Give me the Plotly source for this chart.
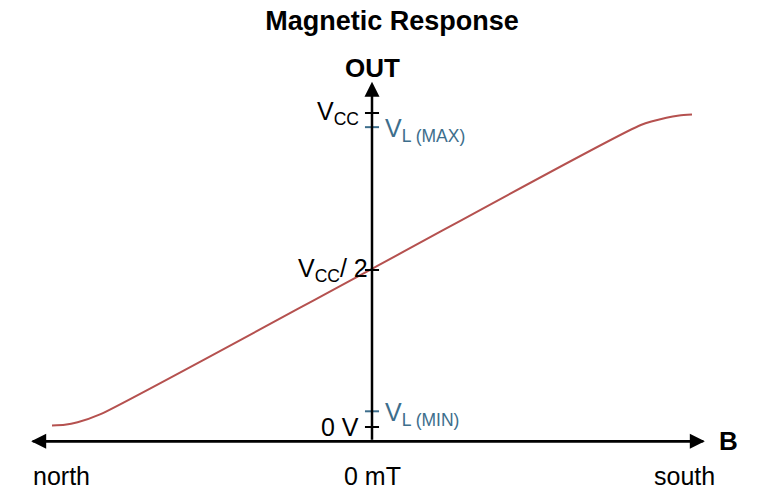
import plotly.graph_objects as go

# magnetic field (normalized, north negative) and output (fraction of Vcc)
field = [-1.0, -0.96, -0.92, -0.85, 0.0, 0.84, 0.92, 0.96, 1.0]
out = [0.005, 0.007, 0.015, 0.04, 0.504, 0.962, 0.985, 0.992, 0.995]
vl_min, vl_max = 0.05, 0.955
x_labels = ["north", "0 mT", "south"]
x_label_pos = [-0.97, 0.0, 0.975]

fig = go.Figure()
fig.add_trace(go.Scatter(x=field, y=out, mode="lines", line=dict(color="#b5514f", width=2, shape="spline", smoothing=0.6), hoverinfo="skip"))

ax_y = -0.045
fig.add_annotation(x=1.04, y=ax_y, ax=-1.065, ay=ax_y, xref="x", yref="y", axref="x", ayref="y", text="", showarrow=True, arrowhead=2, arrowsize=1.2, arrowwidth=2.5, arrowcolor="black")
fig.add_annotation(x=-1.065, y=ax_y, ax=1.04, ay=ax_y, xref="x", yref="y", axref="x", ayref="y", text="", showarrow=True, arrowhead=2, arrowsize=1.2, arrowwidth=2.5, arrowcolor="black")
fig.add_annotation(x=0, y=1.10, ax=0, ay=ax_y, xref="x", yref="y", axref="x", ayref="y", text="", showarrow=True, arrowhead=2, arrowsize=1.2, arrowwidth=2.5, arrowcolor="black")

F = "Arial, Liberation Sans"
def txt(x, y, t, anchor="center", size=25, color="black", bold=False):
    fig.add_annotation(x=x, y=y, xref="x", yref="y", text=f"<b>{t}</b>" if bold else t, showarrow=False, xanchor=anchor, font=dict(family=F, size=size, color=color))

txt(0, 1.145, "OUT", bold=True, size=26)
txt(1.115, ax_y, "B", bold=True, size=26)
for lbl, p in zip(x_labels, x_label_pos):
    txt(p, -0.155, lbl)
txt(-0.035, 1.0, "V<sub>CC</sub>", anchor="right")
txt(-0.005, 0.5, "V<sub>CC</sub>/ 2", anchor="right")
txt(-0.035, 0.0, "0 V", anchor="right")
blue = "#3d6e8c"
txt(0.035, vl_max - 0.01, "V<sub>L (MAX)</sub>", anchor="left", color=blue)
txt(0.035, vl_min - 0.01, "V<sub>L (MIN)</sub>", anchor="left", color=blue)

for yv, c in [(1.0, "black"), (0.0, "black"), (0.5, "black"), (vl_max, blue), (vl_min, blue)]:
    fig.add_shape(type="line", x0=-0.022, x1=0.022, y0=yv, y1=yv, line=dict(color=c, width=2))

fig.update_layout(
    width=768, height=492, margin=dict(l=0, r=0, t=0, b=0),
    paper_bgcolor="white", plot_bgcolor="white", showlegend=False,
    title=dict(text="<b>Magnetic Response</b>", x=0.5, y=0.975, xanchor="center", yanchor="middle", font=dict(family=F, size=27, color="black")),
    xaxis=dict(range=[-1.1375, 1.2625], visible=False),
    yaxis=dict(range=[-0.2325, 1.3345], visible=False),
)
fig.write_html("out.html")
